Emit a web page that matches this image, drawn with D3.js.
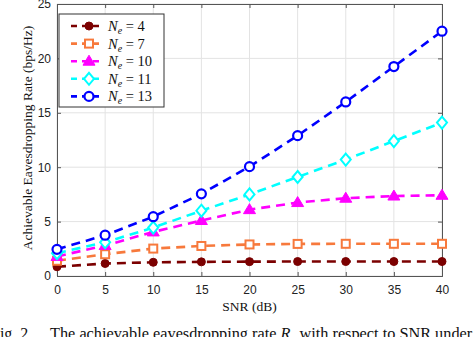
<!DOCTYPE html>
<html><head><meta charset="utf-8">
<script src="https://cdn.jsdelivr.net/npm/d3@7"></script>
<style>body{margin:0;background:#fff}svg{display:block}</style>
</head><body><svg id="c" width="474" height="337"></svg>
<script>
const snr = [0,5,10,15,20,25,30,35,40];
const ne4  = [0.85,1.15,1.26,1.30,1.32,1.33,1.33,1.33,1.33];
const ne7  = [1.4,2.0,2.52,2.76,2.90,2.95,2.96,2.96,2.96];
const ne10 = [1.8,2.8,4.05,5.1,6.1,6.75,7.15,7.35,7.42];
const ne11 = [2.1,3.1,4.45,6.0,7.5,9.1,10.7,12.4,14.1];
const ne13 = [2.45,3.75,5.45,7.55,10.05,12.9,16.0,19.25,22.5];
const xTicks = [0,5,10,15,20,25,30,35,40];
const yTicks = [0,5,10,15,20,25];
const seriesNames = ["4","7","10","11","13"];
const seriesValues = [ne4,ne7,ne10,ne11,ne13];
const colors = ["#7b0000","#f7793c","#ff00ff","#00ffff","#0000ff"];
const markers = ["dot","square","triangle","diamond","circle"];

const svg = d3.select("#c");
const L=57,R=442,T=4,B=276;
const x = d3.scaleLinear().domain([0,40]).range([L,R]);
const y = d3.scaleLinear().domain([0,25]).range([B,T]);

// grid
const g = svg.append("g");
g.selectAll(".gx").data(xTicks).join("line").attr("x1",d=>x(d)).attr("x2",d=>x(d)).attr("y1",T).attr("y2",B).attr("stroke","#e3e3e3").attr("stroke-width",1);
g.selectAll(".gy").data(yTicks).join("line").attr("y1",d=>y(d)).attr("y2",d=>y(d)).attr("x1",L).attr("x2",R).attr("stroke","#e3e3e3").attr("stroke-width",1);

// axes
const ax = svg.append("g").attr("transform",`translate(0,${B})`).call(d3.axisBottom(x).tickValues(xTicks).tickSize(-4).tickPadding(9));
const ay = svg.append("g").attr("transform",`translate(${L},0)`).call(d3.axisLeft(y).tickValues(yTicks).tickSize(-4).tickPadding(6));
const axT = svg.append("g").attr("transform",`translate(0,${T})`).call(d3.axisTop(x).tickValues(xTicks).tickSize(-4).tickFormat(""));
const ayR = svg.append("g").attr("transform",`translate(${R},0)`).call(d3.axisRight(y).tickValues(yTicks).tickSize(-4).tickFormat(""));
[ax,ay,axT,ayR].forEach(a=>{a.select(".domain").attr("stroke","#555").attr("stroke-width",1);a.selectAll(".tick line").attr("stroke","#555");
  a.selectAll("text").attr("font-family","Liberation Sans, Arial, sans-serif").attr("font-size",12).attr("fill","#222");});

// labels
svg.append("text").attr("x",(L+R)/2).attr("y",311).attr("text-anchor","middle").attr("font-family","Liberation Serif, Times New Roman, serif").attr("font-size",13.5).attr("fill","#111").text("SNR (dB)");
svg.append("text").attr("transform",`translate(32,138) rotate(-90)`).attr("text-anchor","middle").attr("font-family","Liberation Serif, Times New Roman, serif").attr("font-size",13.5).attr("fill","#111").text("Achievable Eavesdropping Rate (bps/Hz)");

// caption (cut off at bottom, as in the reference)
const ff = "Liberation Serif, Times New Roman, serif";
svg.append("text").attr("x",-9).attr("y",339).attr("font-family",ff).attr("font-size",16).attr("fill","#111").text("Fig. 2.");
const cap = svg.append("text").attr("x",50).attr("y",339).attr("font-family",ff).attr("font-size",16.3).attr("fill","#111");
cap.append("tspan").text("The achievable eavesdropping rate ");
cap.append("tspan").attr("font-style","italic").text("R");
cap.append("tspan").attr("font-style","italic").attr("font-size",11).attr("dy",3).text("e");
cap.append("tspan").attr("dy",-3).text(" with respect to SNR under");

function drawMarker(sel,type,color,cx,cy){
  if(type==="dot") sel.append("circle").attr("cx",cx).attr("cy",cy).attr("r",4).attr("fill",color).attr("stroke",color);
  else if(type==="square") sel.append("rect").attr("x",cx-4).attr("y",cy-4).attr("width",8).attr("height",8).attr("fill","#fff").attr("stroke",color).attr("stroke-width",2);
  else if(type==="triangle") sel.append("path").attr("d",`M${cx},${cy-6}L${cx+6},${cy+4}L${cx-6},${cy+4}Z`).attr("fill",color).attr("stroke",color).attr("stroke-width",1);
  else if(type==="diamond") sel.append("path").attr("d",`M${cx},${cy-6}L${cx+5},${cy}L${cx},${cy+6}L${cx-5},${cy}Z`).attr("fill","#fff").attr("stroke",color).attr("stroke-width",2);
  else if(type==="circle") sel.append("circle").attr("cx",cx).attr("cy",cy).attr("r",4.5).attr("fill","#fff").attr("stroke",color).attr("stroke-width",2.2);
}

const line = d3.line().x((d,i)=>x(snr[i])).y(d=>y(d));
seriesValues.forEach((vals,k)=>{
  const gs = svg.append("g");
  gs.append("path").attr("d",line(vals)).attr("fill","none").attr("stroke",colors[k]).attr("stroke-width",2.6).attr("stroke-dasharray","9,6");
  vals.forEach((v,i)=>drawMarker(gs,markers[k],colors[k],x(snr[i]),y(v)));
});

// legend
const lg = svg.append("g");
lg.append("rect").attr("x",59).attr("y",14).attr("width",105).attr("height",93).attr("fill","#fff").attr("stroke","#333").attr("stroke-width",1);
seriesNames.forEach((n,k)=>{
  const yy = 26 + k*17.6;
  lg.append("line").attr("x1",71).attr("x2",101).attr("y1",yy).attr("y2",yy).attr("stroke",colors[k]).attr("stroke-width",2.6).attr("stroke-dasharray","6,5");
  drawMarker(lg,markers[k],colors[k],89,yy);
  const t = lg.append("text").attr("x",108).attr("y",yy+5).attr("font-family",ff).attr("font-size",14.5).attr("fill","#111");
  t.append("tspan").attr("font-style","italic").text("N");
  t.append("tspan").attr("font-style","italic").attr("font-size",10).attr("dy",3).text("e");
  t.append("tspan").attr("dy",-3).text(" = "+n);
});
</script></body></html>
